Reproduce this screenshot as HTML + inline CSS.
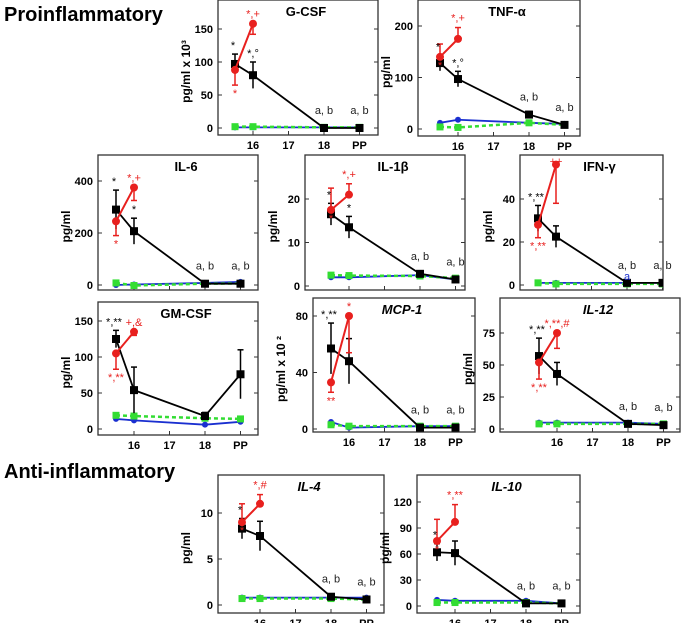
<!DOCTYPE html>
<html><head><meta charset="utf-8">
<style>
body{margin:0;background:#fff;}
svg{display:block;font-family:"Liberation Sans",sans-serif;}
</style></head>
<body>
<svg id="c" width="685" height="623" viewBox="0 0 685 623">
<defs id="defs"></defs>
<text x="4" y="21" font-size="20" font-weight="bold">Proinflammatory</text>
<text x="4" y="478" font-size="20" font-weight="bold">Anti-inflammatory</text>
</svg>
<script>
const xCats = ["15.5","16","17","18","PP"];
const xTickLabels = ["16","17","18","PP"];
const titles = ["G-CSF","TNF-α","IL-6","IL-1β","IFN-γ","GM-CSF","MCP-1","IL-12","IL-4","IL-10"];
const yTicks = [[0,50,100,150],[0,100,200],[0,200,400],[0,10,20],[0,20,40],[0,50,100,150],[0,40,80],[0,25,50,75],[0,5,10],[0,30,60,90,120]];
const blackVals = [[97,80,0,0],[128,97,28,8],[290,207,5,5],[16.5,13.5,2.8,1.5],[31,22.5,1,1],[125,54,18,76],[57,48,1,1],[57,43,4,3],[8.3,7.5,0.9,0.6],[62,61,3,3]];
const blackErr = [[15,20,2,2],[15,15,6,3],[75,50,5,5],[2.5,2.5,0.5,0.5],[6,5,0.5,0.5],[12,32,5,34],[18,16,1,1],[14,9,1,1],[1.1,1.6,0.3,0.2],[10,14,3,1]];
const redVals = [[88,158],[140,175],[245,375],[17.5,21],[28,56],[105,135],[33,80],[52,75],[9,11],[75,97]];
const redErrUp = [[0,0],[25,22],[0,0],[5,2.5],[0,0],[0,0],[0,0],[0,0],[2,1],[25,20]];
const redErrDown = [[23,16],[0,0],[55,50],[0,0],[6,18],[22,5],[7,26],[13,12],[0,0],[0,0]];
const blueVals = [[1,1,1,1],[12,18,12,10],[0,2,8,12],[2,2,2.5,1.5],[1,1,1,1],[14,12,6,10],[5,1,2,2],[5,5,5,4],[0.8,0.8,0.8,0.8],[7,6,6,3]];
const greenVals = [[2,2,1,1],[4,3,12,8],[8,-2,5,6],[2.5,2.4,2.3,1.8],[1,0.5,0.5,0.5],[19,18,15,14],[3,2,2,2],[4,4,4,4],[0.7,0.7,0.7,0.6],[4,4,4,3]];
const yLabels = ["pg/ml x 10³","pg/ml","pg/ml","pg/ml","pg/ml","pg/ml","pg/ml x 10 ²","pg/ml","pg/ml","pg/ml"];
const italicTitle = [false,false,false,false,false,false,true,true,true,true];
const annotTexts = [["*","*,°","a, b","*","*,+"],["*","*,°","a, b","*","*,+"],["*","*","a, b","*","*,+"],["*","*","a, b","*","*,+"],["*,**","","a, b","*,**","++"],["*,**","","","*,**","+,&"],["*,**","","a, b","**","*"],["*,**","","a, b","*,**","*,**,#"],["*","","a, b","*","*,#"],["*","","a, b","*","*,**"]];
const L = [
 [218,0,378,135,128,29,253,1],[418,0,580,136,129,26,458,1],
 [98,155,258,290,285,181,134,0],[305,155,465,290,286,199,349,0],[520,155,663,290,285,199,556,0],
 [98,302,258,435,429,321,134,1],[313,298,475,432,429,316,349,1],[500,298,680,432,429,333,557,1],
 [218,475,384,613,605,513,260,1],[417,475,580,613,606,502,455,1]];
const svg = document.getElementById('c');
const defs = document.getElementById('defs');
const NS = "http://www.w3.org/2000/svg";
function mk(tag, attrs, parent){const e=document.createElementNS(NS,tag);for(const k in attrs)e.setAttribute(k,attrs[k]);(parent||svg).appendChild(e);return e;}
titles.forEach((t,i)=>{
  const [x0,y0,x1,y1,p0,pTop,x16,showX]=L[i];
  const ticks=yTicks[i], tmax=ticks[ticks.length-1];
  const ys=v=>p0-(v/tmax)*(p0-pTop);
  const st=35.5;
  const xs=c=>{const idx=xCats.indexOf(c);return [x16-18,x16,x16+st,x16+2*st,x16+3*st][idx];};
  const cp=mk('clipPath',{id:'clip'+i},defs);
  mk('rect',{x:x0,y:y0,width:x1-x0,height:y1-y0},cp);
  const g=mk('g',{});
  
  
  const box=mk('rect',{x:x0,y:y0,width:x1-x0,height:y1-y0,fill:'none',stroke:'#333','stroke-width':1.3},g);
  
  const tt=mk('text',{x:(x0+x1)/2+8,y:y0+16,'font-size':13,'font-weight':'bold','text-anchor':'middle','font-style':italicTitle[i]?'italic':'normal'},g);
  tt.textContent=t;
  ticks.forEach(v=>{
    const y=ys(v);
    mk('line',{x1:x0,x2:x0+4,y1:y,y2:y,stroke:'#333'},g);
    mk('line',{x1:x1,x2:x1-4,y1:y,y2:y,stroke:'#333'},g);
    const tl=mk('text',{x:x0-5,y:y+4,'font-size':11,'font-weight':'bold','text-anchor':'end'},g);
    tl.textContent=v;
  });
  xTickLabels.forEach(c=>{
    const x=xs(c);
    mk('line',{x1:x,x2:x,y1:y1,y2:y1-4,stroke:'#333'},g);
    if(showX){
      const tl=mk('text',{x:x,y:y1+14,'font-size':11,'font-weight':'bold','text-anchor':'middle'},g);
      tl.textContent=c;
    }
  });
  const yl=mk('text',{x:0,y:0,'font-size':12,'font-weight':'bold','text-anchor':'middle',transform:`translate(${x0-28},${(y0+y1)/2+4}) rotate(-90)`},g);
  yl.textContent=yLabels[i];
  const pg=mk('g',{'clip-path':`url(#clip${i})`},g);
  
  
  const cats4=["15.5","16","18","PP"];
  const line=(vals,cats,color,dash,w)=>mk('polyline',{points:vals.map((v,k)=>xs(cats[k])+','+ys(v)).join(' '),fill:'none',stroke:color,'stroke-width':w,'stroke-dasharray':dash||'none'},pg);
  const bl=line(blueVals[i],cats4,'#1a2fd0',null,1.8);
  blueVals[i].forEach((v,k)=>{const r=mk('circle',{cx:xs(cats4[k]),cy:ys(v),r:3,fill:'#1a2fd0'},pg);});
  const gl=line(greenVals[i],cats4,'#33dd33','4,3',2.5);
  greenVals[i].forEach((v,k)=>{const r=mk('rect',{x:xs(cats4[k])-3.5,y:ys(v)-3.5,width:7,height:7,fill:'#33dd33'},pg);});
  const kl=line(blackVals[i],cats4,'#000',null,1.8);
  blackVals[i].forEach((v,k)=>{
    const x=xs(cats4[k]),e=blackErr[i][k];
    mk('line',{x1:x,x2:x,y1:ys(v-e),y2:ys(v+e),stroke:'#000','stroke-width':1.5},pg);
    mk('line',{x1:x-3,x2:x+3,y1:ys(v+e),y2:ys(v+e),stroke:'#000','stroke-width':1.5},pg);
    const r=mk('rect',{x:x-4,y:ys(v)-4,width:8,height:8,fill:'#000'},pg);
  });
  const cats2=["15.5","16"];
  const rl=line(redVals[i],cats2,'#e8201e',null,2);
  redVals[i].forEach((v,k)=>{
    const x=xs(cats2[k]),eu=redErrUp[i][k],ed=redErrDown[i][k];
    const top=ys(v+eu),bot=ys(v-ed);
    mk('line',{x1:x,x2:x,y1:bot,y2:top,stroke:'#e8201e','stroke-width':1.5},pg);
    if(eu>0) mk('line',{x1:x-3,x2:x+3,y1:top,y2:top,stroke:'#e8201e','stroke-width':1.5},pg);
    if(ed>0) mk('line',{x1:x-3,x2:x+3,y1:bot,y2:bot,stroke:'#e8201e','stroke-width':1.5},pg);
    const r=mk('circle',{cx:x,cy:ys(v),r:4,fill:'#e8201e'},pg);
  });
  const A=annotTexts[i];
  const place=[[xs("15.5")-2,ys(blackVals[i][0]+blackErr[i][0])-5,'#000'],[xs("16"),ys(blackVals[i][1]+blackErr[i][1])-5,'#000'],[xs("18"),ys(blackVals[i][2])-14,'#222'],[xs("15.5"),ys(redVals[i][0]-redErrDown[i][0])+12,'#e8201e'],[xs("16"),ys(redVals[i][1]+redErrUp[i][1])-6,'#e8201e']];
  A.forEach((s,k)=>{if(!s)return;const [x,y,c]=place[k];
    const a=mk('text',{x:x,y:Math.max(y,y0+10),'font-size':11,fill:c,'text-anchor':'middle'},g);a.textContent=s;
    });
  if(i!==5){const a=mk('text',{x:xs("PP"),y:ys(blackVals[i][3])-14,'font-size':11,fill:'#222','text-anchor':'middle'},g);a.textContent='a, b';
    }
  if(i===4){const a=mk('text',{x:xs("18"),y:ys(blackVals[i][2])-3,'font-size':11,fill:'#1a2fd0','text-anchor':'middle'},g);a.textContent='a';
    }
});
</script>
</body></html>
